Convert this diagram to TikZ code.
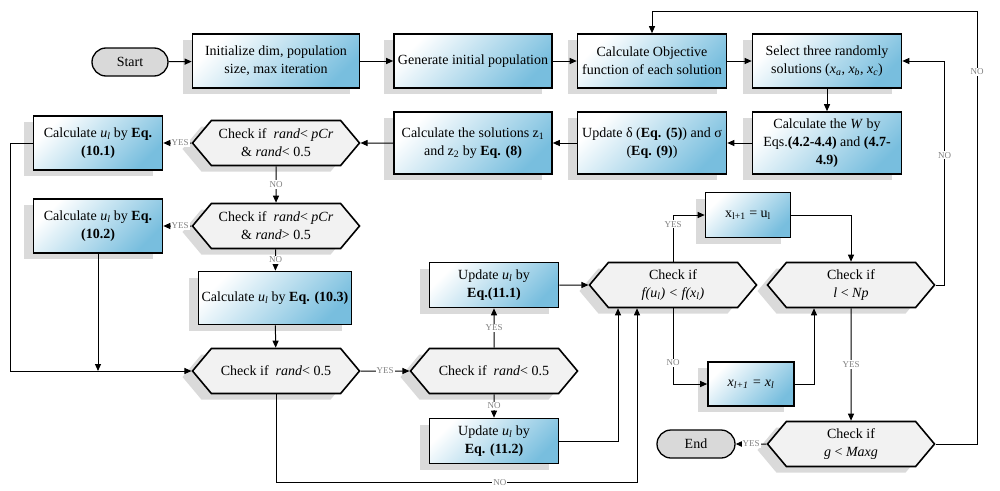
\documentclass[tikz,border=0pt]{standalone}
\usepackage{fontspec}
\setmainfont{Liberation Serif}
\usepackage{tikz}
\usetikzlibrary{shapes.symbols,shadows,arrows.meta}
\definecolor{boxblue}{RGB}{120,190,222}
\definecolor{hexgray}{RGB}{242,242,242}
\definecolor{termgray}{RGB}{217,217,217}
\definecolor{shadowgray}{RGB}{218,218,218}

\begin{document}
\begin{tikzpicture}[x=1pt,y=-1pt,
  font=\fontsize{14}{18}\selectfont,
  shd/.style={drop shadow={shadow xshift=-10pt,shadow yshift=-6pt,fill=shadowgray,opacity=1}},
  proc/.style={rectangle,draw=black,line width=1.6pt,shd,top color=white,bottom color=boxblue,shading angle=45,align=center,inner sep=2pt},
  cond/.style={signal,signal to=west and east,signal pointer angle=100,draw=black,line width=1.6pt,shd,fill=hexgray,minimum width=167pt,minimum height=45pt,align=center,inner sep=2pt},
  term/.style={rectangle,rounded corners=14pt,draw=black,line width=1.3pt,fill=termgray,minimum width=76pt,minimum height=28pt},
  arr/.style={-{Triangle[length=7pt,width=6pt]},line width=1pt},
  lbl/.style={fill=white,inner sep=1pt,text=gray,font=\fontsize{9}{10}\selectfont}]
\useasboundingbox (0,0) rectangle (1000,490);
\node[term] (start) at (130,62) {Start};
\node[proc,minimum width=167pt,minimum height=54pt] (init) at (276,61) {Initialize dim, population\\size, max iteration};
\node[proc,minimum width=158pt,minimum height=54pt] (gen) at (473,61) {Generate initial population};
\node[proc,minimum width=149pt,minimum height=54pt] (obj) at (652,61) {Calculate Objective\\function of each solution};
\node[proc,minimum width=149pt,minimum height=54pt] (sel) at (827,61) {Select three randomly\\solutions (\textit{x}\textsubscript{\textit{a}}, \textit{x}\textsubscript{\textit{b}}, \textit{x}\textsubscript{\textit{c}})};
\node[proc,minimum width=149pt,minimum height=62pt] (calcw) at (827,143) {Calculate the \textit{W} by\\Eqs.\textbf{(4.2-4.4)} and \textbf{(4.7-}\\\textbf{4.9)}};
\node[proc,minimum width=149pt,minimum height=62pt] (upd) at (652,143) {Update δ (\textbf{Eq. (5)}) and σ\\(\textbf{Eq. (9)})};
\node[proc,minimum width=158pt,minimum height=62pt] (calcz) at (473,143) {Calculate the solutions z\textsubscript{1}\\and z\textsubscript{2} by \textbf{Eq. (8)}};
\node[cond] (hexA) at (276,143) {Check if \ \textit{rand}< \textit{pCr}\\\& \textit{rand}< 0.5};
\node[proc,minimum width=129pt,minimum height=54pt] (ua) at (98,143) {Calculate \textit{u\textsubscript{l}} by \textbf{Eq.}\\\textbf{(10.1)}};
\node[proc,minimum width=129pt,minimum height=54pt] (ub) at (98,226) {Calculate \textit{u\textsubscript{l}} by \textbf{Eq.}\\\textbf{(10.2)}};
\node[cond] (hexB) at (276,226) {Check if \ \textit{rand}< \textit{pCr}\\\& \textit{rand}> 0.5};
\node[proc,minimum width=153pt,minimum height=53pt] (uc) at (275,298) {Calculate \textit{u\textsubscript{l}} by \textbf{Eq. (10.3)}};
\node[cond] (hexC) at (276,371) {Check if \ \textit{rand}< 0.5};
\node[cond] (hexD) at (494,371) {Check if \ \textit{rand}< 0.5};
\node[proc,minimum width=129pt,minimum height=45pt] (ud) at (494,285) {Update \textit{u\textsubscript{l}} by\\\textbf{Eq.(11.1)}};
\node[proc,minimum width=129pt,minimum height=45pt] (ue) at (494,441) {Update \textit{u\textsubscript{l}} by\\\textbf{Eq. (11.2)}};
\node[cond] (hexF) at (673,285) {Check if\\\textit{f(u\textsubscript{l}) < f(x\textsubscript{l})}};
\node[proc,minimum width=85pt,minimum height=45pt] (xu) at (748,215) {x\textsubscript{l+1} = u\textsubscript{l}};
\node[proc,minimum width=86pt,minimum height=44pt] (xx) at (751,384) {\textit{x\textsubscript{l+1} = x\textsubscript{l}}};
\node[cond] (hexL) at (851,285) {Check if\\\textit{l} < \textit{Np}};
\node[cond] (hexG) at (851,444) {Check if\\\textit{g} < \textit{Maxg}};
\node[term,minimum width=78pt] (stop) at (696,444) {End};
\coordinate (topr) at (977,11);
\draw[arr] (start) -- (init);
\draw[arr] (init) -- (gen);
\draw[arr] (gen) -- (obj);
\draw[arr] (obj) -- (sel);
\draw[arr] (sel) -- (calcw);
\draw[arr] (calcw) -- (upd);
\draw[arr] (upd) -- (calcz);
\draw[arr] (calcz) -- (hexA);
\draw[arr] (hexA) -- node[lbl,pos=0.4]{YES} (ua);
\draw[arr] (hexA) -- node[lbl]{NO} (hexB);
\draw[arr] (hexB) -- node[lbl,pos=0.4]{YES} (ub);
\draw[arr] (hexB) -- node[lbl]{NO} (uc);
\draw[arr] (uc) -- (hexC);
\draw[arr] (ua.west) -- ++(-22,0) |- (hexC.west);
\draw[arr] (ub.south) -- (ub.south |- hexC.west);
\draw[arr] (hexC) -- node[lbl]{YES} (hexD);
\draw[arr] (hexD) -- node[lbl]{YES} (ud);
\draw[arr] (hexD) -- node[lbl]{NO} (ue);
\draw[arr] (ud) -- (hexF);
\draw[arr] (ue.east) -| ([xshift=-55pt]hexF.south);
\draw[arr] (hexC.south) -- ++(0,88) -| node[lbl,pos=0.31]{NO} ([xshift=-36pt]hexF.south);
\draw[arr] (hexF.north) |- node[lbl,pos=0.4]{YES} (xu.west);
\draw[arr] (hexF.south) |- node[lbl,pos=0.36]{NO} (xx.west);
\draw[arr] (xu.east) -| (hexL.north);
\draw[arr] (xx.east) -| ([xshift=-37pt]hexL.south);
\draw[arr] (hexL) -- node[lbl]{YES} (hexG);
\draw[arr] (hexL.east) -- ++(9,0) |- node[lbl,pos=0.29]{NO} (sel.east);
\draw[arr] (hexG) -- node[lbl]{YES} (stop);
\draw[arr] (hexG.east) -| node[lbl,pos=0.93]{NO} (topr) -| (obj.north);
\end{tikzpicture}
\end{document}
